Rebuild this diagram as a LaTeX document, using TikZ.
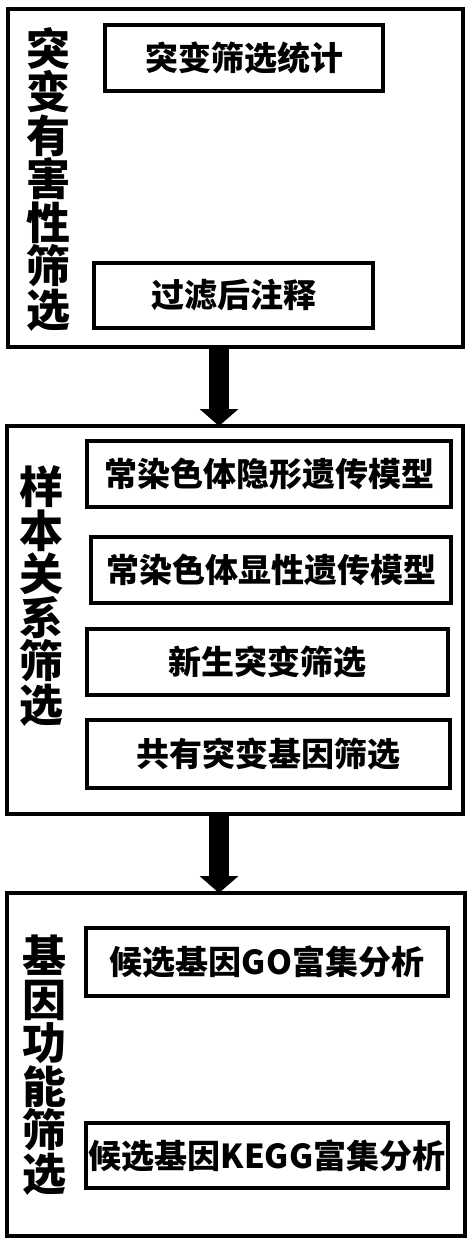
\documentclass[tikz,border=0pt]{standalone}
\usepackage{fontspec}
\newfontfamily\cjk{Noto Sans CJK SC}
\usepackage{tikz}
\usetikzlibrary{arrows.meta}
\tikzset{
every picture/.style={x=1pt, y=-1pt},
%%%%%%%%%%  Node styles
outer_box/.style args={#1,#2}{draw, line width=3.5pt, inner sep=0pt, outer
sep=0pt, minimum width=#1, minimum height=#2},
inner_box/.style args={#1,#2}{draw, line width=3.5pt, inner sep=0pt, outer
sep=0pt, minimum width=#1, minimum height=#2,
                 font=\cjk\bfseries\fontsize{33}{33}\selectfont},
side_label/.style={align=center, inner sep=0pt,
                 font=\cjk\bfseries\fontsize{44}{43.5}\selectfont},
%%%% thick arrow between the stages
big_arrow/.style={line width=20pt, -{Triangle[width=38pt, length=17pt]}}
}

\begin{document}
\begin{tikzpicture}
\useasboundingbox (0,0) rectangle (474,1244);
\coordinate (arr_x) at (219,0);
\begin{scope}
  \node[outer_box={455pt,338pt}] (mut_box) at (235.5,178) {};
  \node[side_label] (mut_label) at (48,179) {突\\变\\有\\害\\性\\筛\\选};
  \node[inner_box={278pt,66pt}] (stat) at (244,58) {突变筛选统计};
  \node[inner_box={279pt,65pt}] (anno) at (233.5,295.5) {过滤后注释};
\end{scope}
\begin{scope}
  \node[outer_box={456pt,388pt}] (rel_box) at (235,620) {};
  \node[side_label] (rel_label) at (41,596) {样\\本\\关\\系\\筛\\选};
  \node[inner_box={364pt,66pt}] (recessive) at (269,474) {常染色体隐形遗传模型};
  \node[inner_box={360pt,66pt}] (dominant) at (271,570) {常染色体显性遗传模型};
  \node[inner_box={361pt,66pt}] (denovo) at (267.5,662) {新生突变筛选};
  \node[inner_box={363pt,68pt}] (shared) at (268.5,754) {共有突变基因筛选};
\end{scope}
\begin{scope}
  \node[outer_box={458pt,343pt}] (fun_box) at (236,1064.5) {};
  \node[side_label] (fun_label) at (45,1065) {基\\因\\功\\能\\筛\\选};
  \node[inner_box={362pt,68pt}] (go) at (267,962) {候选基因GO富集分析};
  \node[inner_box={362pt,65pt}] (kegg) at (267,1155.5) {候选基因KEGG富集分析};
\end{scope}
\draw[big_arrow] (mut_box.south -| arr_x) -- (rel_box.north -| arr_x);
\draw[big_arrow] (rel_box.south -| arr_x) -- (fun_box.north -| arr_x);
\end{tikzpicture}
\end{document}
